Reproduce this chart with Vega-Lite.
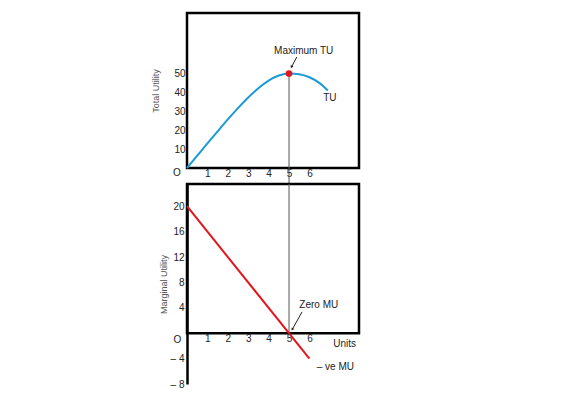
{
  "$schema": "https://vega.github.io/schema/vega-lite/v6.json",
  "background": "white",
  "padding": {"left": 150, "top": 11, "right": 5, "bottom": 5},
  "spacing": 16,
  "bounds": "flush",
  "config": {
    "font": "Liberation Sans",
    "axis": {"labelFont": "Liberation Sans", "labelFontSize": 10, "labelColor": "#222", "labelOverlap": false, "titleFont": "Liberation Sans", "titleFontSize": 9, "titleFontWeight": "normal", "titleColor": "#555", "ticks": false, "grid": false},
    "text": {"font": "Liberation Sans", "fontSize": 10, "color": "#222"}
  },
  "datasets": {
    "tu": [
      {"units": 0, "tu": 0}, {"units": 0.5, "tu": 6.5}, {"units": 1, "tu": 13}, {"units": 1.5, "tu": 19.4},
      {"units": 2, "tu": 25.7}, {"units": 2.5, "tu": 31.7}, {"units": 3, "tu": 37.3}, {"units": 3.5, "tu": 42.2},
      {"units": 4, "tu": 46.2}, {"units": 4.5, "tu": 48.9}, {"units": 5, "tu": 50},
      {"units": 5.5, "tu": 49.6}, {"units": 6, "tu": 48}, {"units": 6.5, "tu": 44.9}, {"units": 6.9, "tu": 41}
    ],
    "maxtu": [{"units": 5, "tu": 50}],
    "mu": [{"units": 0, "mu": 20}, {"units": 6, "mu": -4}],
    "zeromu": [{"units": 5, "mu": 0}]
  },
  "vconcat": [
    {
      "width": 172,
      "height": 155,
      "view": {"stroke": "black", "strokeWidth": 2.5},
      "layer": [
        {
          "data": {"name": "tu"},
          "mark": {"type": "line", "color": "#1a9ad6", "strokeWidth": 2, "interpolate": "monotone"},
          "encoding": {
            "x": {"field": "units", "type": "quantitative", "scale": {"domain": [0, 8.43], "nice": false, "zero": false},
                  "axis": {"values": [1, 2, 3, 4, 5, 6], "tickCount": 20, "format": "d", "domain": false, "labelPadding": 0, "title": null}},
            "y": {"field": "tu", "type": "quantitative", "scale": {"domain": [0, 82], "nice": false},
                  "axis": {"values": [10, 20, 30, 40, 50], "tickCount": 20, "format": "d", "domain": false, "labelPadding": 2, "title": "Total Utility", "titlePadding": 13}}
          }
        },
        {
          "data": {"name": "maxtu"},
          "mark": {"type": "rule", "color": "#555", "strokeWidth": 1},
          "encoding": {
            "x": {"field": "units", "type": "quantitative"},
            "y": {"field": "tu", "type": "quantitative"},
            "y2": {"datum": -8.5}
          }
        },
        {
          "data": {"name": "maxtu"},
          "mark": {"type": "point", "filled": true, "color": "#e3141b", "size": 45, "opacity": 1},
          "encoding": {
            "x": {"field": "units", "type": "quantitative"},
            "y": {"field": "tu", "type": "quantitative"}
          }
        },
        {
          "data": {"values": [{}]},
          "mark": {"type": "rule", "color": "#222", "strokeWidth": 1},
          "encoding": {
            "x": {"datum": 5.38, "type": "quantitative"}, "y": {"datum": 58.7, "type": "quantitative"},
            "x2": {"datum": 5.12}, "y2": {"datum": 53.4}
          }
        },
        {
          "data": {"values": [{}]},
          "mark": {"type": "point", "shape": "triangle-up", "filled": true, "color": "#222", "size": 10, "angle": 207, "opacity": 1},
          "encoding": {"x": {"datum": 5.12, "type": "quantitative"}, "y": {"datum": 53.4, "type": "quantitative"}}
        },
        {
          "data": {"values": [{}]},
          "mark": {"type": "text", "align": "center", "baseline": "middle"},
          "encoding": {"x": {"datum": 5.72, "type": "quantitative"}, "y": {"datum": 61.9, "type": "quantitative"}, "text": {"value": "Maximum TU"}}
        },
        {
          "data": {"values": [{}]},
          "mark": {"type": "text", "align": "center", "baseline": "middle"},
          "encoding": {"x": {"datum": 7.0, "type": "quantitative"}, "y": {"datum": 37.2, "type": "quantitative"}, "text": {"value": "TU"}}
        },
        {
          "data": {"values": [{}]},
          "mark": {"type": "text", "align": "center", "baseline": "middle", "dx": -10, "dy": 5},
          "encoding": {"x": {"datum": 0, "type": "quantitative"}, "y": {"datum": 0, "type": "quantitative"}, "text": {"value": "O"}}
        }
      ]
    },
    {
      "width": 172,
      "height": 200,
      "view": {"stroke": null},
      "layer": [
        {
          "data": {"values": [{}]},
          "mark": {"type": "rect", "fill": "white", "fillOpacity": 0, "stroke": "black", "strokeWidth": 2.5},
          "encoding": {
            "x": {"datum": 0, "type": "quantitative", "scale": {"domain": [0, 8.43], "nice": false, "zero": false},
                  "axis": {"values": [1, 2, 3, 4, 5, 6], "tickCount": 20, "format": "d", "domain": false, "labelPadding": 0, "title": null, "offset": -50.8}},
            "x2": {"datum": 8.43},
            "y": {"datum": 0, "type": "quantitative", "scale": {"domain": [-8, 23.5], "nice": false},
                  "axis": {"values": [20, 16, 12, 8, 4, -4, -8], "tickCount": 20, "format": "d", "labelExpr": "datum.value < 0 ? '– ' + abs(datum.value) : datum.label", "domain": true, "domainColor": "black", "domainWidth": 2.5, "labelPadding": 3, "title": "Marginal Utility", "titlePadding": 2}},
            "y2": {"datum": 23.5}
          }
        },
        {
          "data": {"name": "zeromu"},
          "mark": {"type": "rule", "color": "#555", "strokeWidth": 1},
          "encoding": {
            "x": {"field": "units", "type": "quantitative"},
            "y": {"field": "mu", "type": "quantitative"},
            "y2": {"datum": 23.5}
          }
        },
        {
          "data": {"name": "mu"},
          "mark": {"type": "line", "color": "#e3141b", "strokeWidth": 2},
          "encoding": {
            "x": {"field": "units", "type": "quantitative"},
            "y": {"field": "mu", "type": "quantitative"}
          }
        },
        {
          "data": {"values": [{}]},
          "mark": {"type": "rule", "color": "#222", "strokeWidth": 1},
          "encoding": {
            "x": {"datum": 5.64, "type": "quantitative"}, "y": {"datum": 3.35, "type": "quantitative"},
            "x2": {"datum": 5.16}, "y2": {"datum": 0.6}
          }
        },
        {
          "data": {"values": [{}]},
          "mark": {"type": "point", "shape": "triangle-up", "filled": true, "color": "#222", "size": 10, "angle": 210, "opacity": 1},
          "encoding": {"x": {"datum": 5.16, "type": "quantitative"}, "y": {"datum": 0.6, "type": "quantitative"}}
        },
        {
          "data": {"values": [{}]},
          "mark": {"type": "text", "align": "center", "baseline": "middle"},
          "encoding": {"x": {"datum": 6.46, "type": "quantitative"}, "y": {"datum": 4.52, "type": "quantitative"}, "text": {"value": "Zero MU"}}
        },
        {
          "data": {"values": [{}]},
          "mark": {"type": "text", "align": "center", "baseline": "middle"},
          "encoding": {"x": {"datum": 7.73, "type": "quantitative"}, "y": {"datum": -1.73, "type": "quantitative"}, "text": {"value": "Units"}}
        },
        {
          "data": {"values": [{}]},
          "mark": {"type": "text", "align": "center", "baseline": "middle"},
          "encoding": {"x": {"datum": 7.27, "type": "quantitative"}, "y": {"datum": -5.3, "type": "quantitative"}, "text": {"value": "– ve MU"}}
        },
        {
          "data": {"values": [{}]},
          "mark": {"type": "text", "align": "center", "baseline": "middle", "dx": -9.5, "dy": 7},
          "encoding": {"x": {"datum": 0, "type": "quantitative"}, "y": {"datum": 0, "type": "quantitative"}, "text": {"value": "O"}}
        }
      ]
    }
  ]
}
